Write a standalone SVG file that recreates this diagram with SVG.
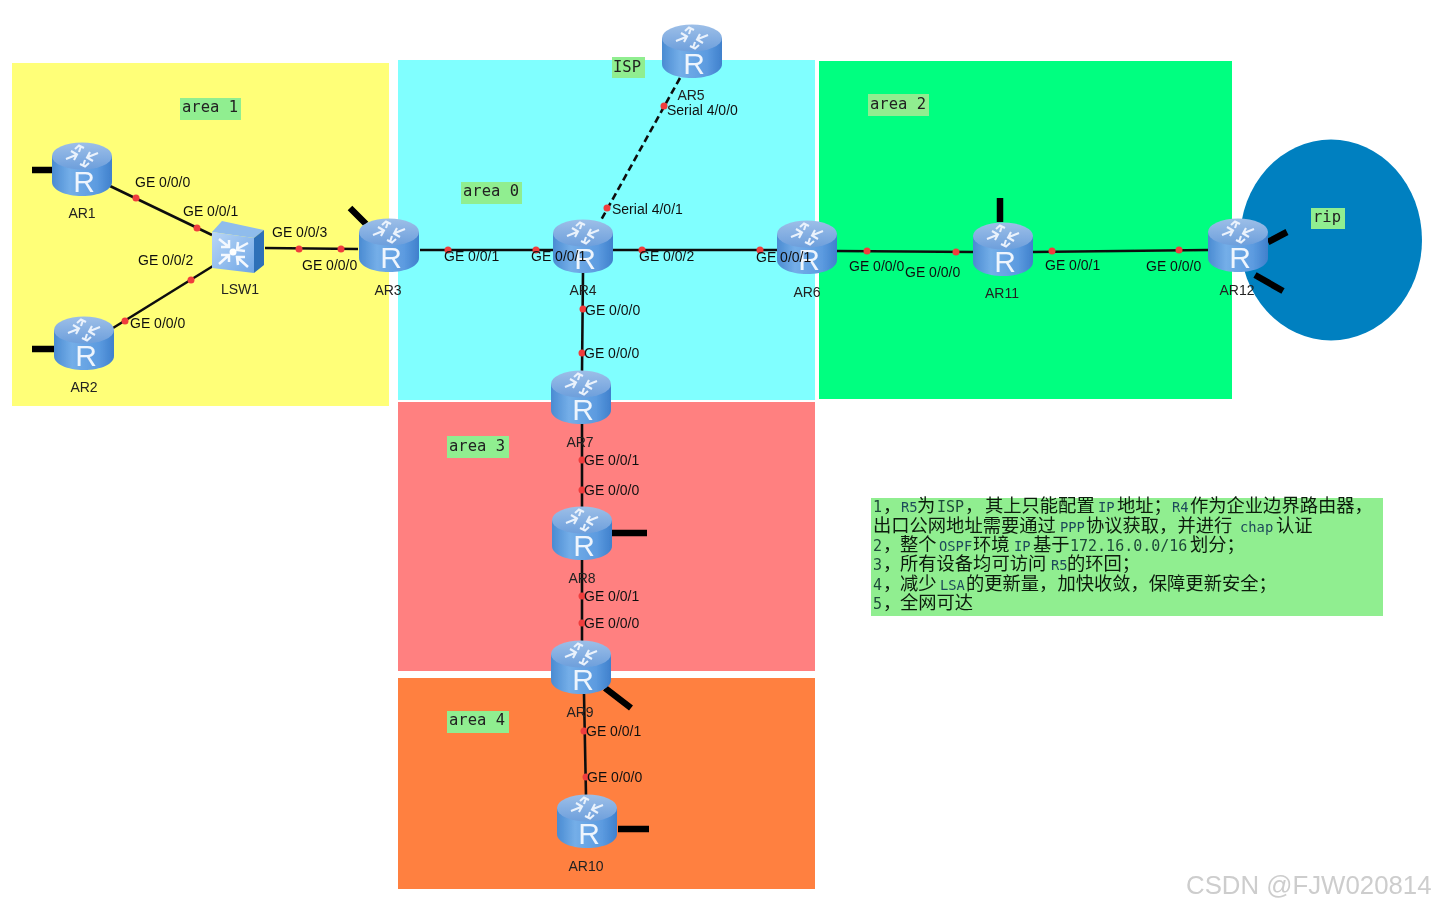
<svg xmlns="http://www.w3.org/2000/svg" width="1438" height="910" viewBox="0 0 1438 910">
<style>
.lbl{font:14px "Liberation Sans",Arial,sans-serif;fill:#111}
.name{font:14px "Liberation Sans",Arial,sans-serif;fill:#222;text-anchor:middle}
.mono{font:15.5px "DejaVu Sans Mono","Liberation Mono",monospace;fill:#222}
.tag{fill:#90ee90}
.link{stroke:#111;stroke-width:2.6;fill:none}
.dash{stroke-dasharray:7 4}
.stub{stroke:#000;stroke-width:6.5;fill:none}
.dot{fill:#f03c3c}
.note{font:18.3px "Noto Sans CJK SC","Liberation Sans",sans-serif;fill:#0c1a0c}
.note .m{font:15px "DejaVu Sans Mono","Liberation Mono",monospace;fill:#1e4a3a}
.note .s{font:13.8px "DejaVu Sans Mono","Liberation Mono",monospace;fill:#1e4a5a}
</style>
<defs>
<filter id="soft" x="0" y="0" width="100%" height="100%"><feGaussianBlur stdDeviation="0.5"/></filter>
<linearGradient id="body" x1="0" x2="1" y1="0" y2="0">
<stop offset="0" stop-color="#4a8bd2"/><stop offset=".3" stop-color="#74aee8"/><stop offset=".75" stop-color="#5c9be0"/><stop offset="1" stop-color="#3f80cc"/>
</linearGradient>
<linearGradient id="top" x1="0" x2="0" y1="0" y2="1">
<stop offset="0" stop-color="#9dbfe8"/><stop offset="1" stop-color="#6d9fdc"/>
</linearGradient>
<linearGradient id="sw" x1="0" x2="1" y1="0" y2="1">
<stop offset="0" stop-color="#b9d6f6"/><stop offset="1" stop-color="#6fa6e6"/>
</linearGradient>
<g id="router">
<path d="M-30-13V13C-30 21-17 27 0 27S30 21 30 13V-13Z" fill="url(#body)"/>
<ellipse cx="0" cy="-13" rx="30" ry="13.500" fill="url(#top)"/>
<g stroke="#eaf2fc" stroke-width="2.100" fill="none">
<path d="M-16-10L-6-14M-11-18L-5-14.500-8-9"/>
<path d="M16-16L6-12M11-8L5-11.500 8-17"/>
<path d="M-1-23L-3-17M-7-20L-3-23.500 2-21"/>
<path d="M1-3L3-9M7-6L3-2.500-2-5"/>
</g>
<text x="2" y="23" font-family="Liberation Sans,Arial,sans-serif" font-size="30" fill="#eef5fd" text-anchor="middle">R</text>
</g>
</defs>
<g filter="url(#soft)">
<rect width="1438" height="910" fill="#fff"/>
<g id="areas">
<rect x="12" y="63" width="377" height="343" fill="#ffff78"/>
<rect x="398" y="60" width="417" height="340" fill="#80ffff"/>
<rect x="819" y="61" width="413" height="338" fill="#00ff80"/>
<rect x="398" y="402" width="417" height="269" fill="#ff8080"/>
<rect x="398" y="678" width="417" height="211" fill="#ff8040"/>
<ellipse cx="1331" cy="240" rx="91" ry="100.500" fill="#0080c0"/>
</g>
<g id="tags">
<g id="tag-area1"><rect class="tag" x="180" y="98" width="61" height="22"/><text class="mono" x="182" y="112">area 1</text></g>
<g id="tag-area0"><rect class="tag" x="461" y="182" width="61" height="22"/><text class="mono" x="463" y="196">area 0</text></g>
<g id="tag-area2"><rect class="tag" x="868" y="94" width="61" height="22"/><text class="mono" x="870" y="109">area 2</text></g>
<g id="tag-area3"><rect class="tag" x="447" y="436" width="62" height="22"/><text class="mono" x="449" y="451">area 3</text></g>
<g id="tag-area4"><rect class="tag" x="447" y="711" width="62" height="22"/><text class="mono" x="449" y="725">area 4</text></g>
<g id="tag-isp"><rect class="tag" x="612" y="57" width="33" height="21"/><text class="mono" x="613" y="72">ISP</text></g>
<g id="tag-rip"><rect class="tag" x="1311" y="208" width="34" height="21"/><text class="mono" x="1313" y="222">rip</text></g>
</g>
<g id="connectors">
<path class="link" d="M110 186L212 235M113 328L213 266M265 248L358 249M420 250H555M612 250H778M837 251L975 252M1032 252L1208 250M583 272L582 372M582 424V508M582 560V642M584 694L586 796"/>
<path class="link dash" d="M680 78L600 222"/>
<path class="stub" d="M32 170H52M32 349H54M350 208L366 224M612 533H647M605 688L631 708M618 829H649M1000 198V222M1268 242L1287 232M1255 275L1283 291"/>
<g>
<circle class="dot" cx="136" cy="198" r="3.500"/><circle class="dot" cx="197" cy="228" r="3.500"/><circle class="dot" cx="125" cy="321" r="3.500"/><circle class="dot" cx="191" cy="280" r="3.500"/><circle class="dot" cx="299" cy="249" r="3.500"/><circle class="dot" cx="341" cy="249" r="3.500"/><circle class="dot" cx="448" cy="250" r="3.500"/><circle class="dot" cx="536" cy="250" r="3.500"/><circle class="dot" cx="642" cy="250" r="3.500"/><circle class="dot" cx="760" cy="250" r="3.500"/><circle class="dot" cx="867" cy="251" r="3.500"/><circle class="dot" cx="956" cy="252" r="3.500"/><circle class="dot" cx="1052" cy="251" r="3.500"/><circle class="dot" cx="1179" cy="250" r="3.500"/><circle class="dot" cx="664" cy="106" r="3.500"/><circle class="dot" cx="607" cy="208" r="3.500"/><circle class="dot" cx="583" cy="309" r="3.500"/><circle class="dot" cx="582" cy="353" r="3.500"/><circle class="dot" cx="582" cy="460" r="3.500"/><circle class="dot" cx="582" cy="490" r="3.500"/><circle class="dot" cx="582" cy="596" r="3.500"/><circle class="dot" cx="582" cy="623" r="3.500"/><circle class="dot" cx="584" cy="731" r="3.500"/><circle class="dot" cx="586" cy="777" r="3.500"/>
</g>
</g>
<g id="AR1"><use href="#router" x="82" y="169"/><text class="name" x="82" y="218">AR1</text></g>
<g id="AR2"><use href="#router" x="84" y="343"/><text class="name" x="84" y="392">AR2</text></g>
<g id="LSW1">
<path d="M212 232L222 221 264 230 254 238Z" fill="#8fbcec"/>
<path d="M254 238L264 230V265L254 273Z" fill="#2f6fb8"/>
<path d="M212 232L254 238V273L212 268Z" fill="url(#sw)"/>
<g stroke="#f4f8fe" stroke-width="2.500" fill="none">
<path d="M219 239L229 247M221 247H229V240"/>
<path d="M248 243L237 249M238 242L237 250 245 251"/>
<path d="M219 264L229 255M221 255H229V262"/>
<path d="M248 267L237 257M238 265L237 257 245 257"/>
</g>
<circle cx="233" cy="252" r="3.500" fill="#fff"/>
<text class="name" x="240" y="294">LSW1</text>
</g>
<g id="AR3"><use href="#router" x="389" y="245"/><text class="name" x="388" y="295">AR3</text></g>
<g id="AR4"><use href="#router" x="583" y="246"/><text class="name" x="583" y="295">AR4</text></g>
<g id="AR5"><use href="#router" x="692" y="51"/><text class="name" x="691" y="100">AR5</text></g>
<g id="AR6"><use href="#router" x="807" y="247"/><text class="name" x="807" y="297">AR6</text></g>
<g id="AR11"><use href="#router" x="1003" y="249"/><text class="name" x="1002" y="298">AR11</text></g>
<g id="AR12"><use href="#router" x="1238" y="245"/><text class="name" x="1237" y="295">AR12</text></g>
<g id="AR7"><use href="#router" x="581" y="397"/><text class="name" x="580" y="447">AR7</text></g>
<g id="AR8"><use href="#router" x="582" y="533"/><text class="name" x="582" y="583">AR8</text></g>
<g id="AR9"><use href="#router" x="581" y="667"/><text class="name" x="580" y="717">AR9</text></g>
<g id="AR10"><use href="#router" x="587" y="821"/><text class="name" x="586" y="871">AR10</text></g>
<g id="labels">
<text class="lbl" x="135" y="187">GE 0/0/0</text>
<text class="lbl" x="183" y="216">GE 0/0/1</text>
<text class="lbl" x="138" y="265">GE 0/0/2</text>
<text class="lbl" x="130" y="328">GE 0/0/0</text>
<text class="lbl" x="272" y="237">GE 0/0/3</text>
<text class="lbl" x="302" y="270">GE 0/0/0</text>
<text class="lbl" x="444" y="261">GE 0/0/1</text>
<text class="lbl" x="531" y="261">GE 0/0/1</text>
<text class="lbl" x="639" y="261">GE 0/0/2</text>
<text class="lbl" x="756" y="262">GE 0/0/1</text>
<text class="lbl" x="849" y="271">GE 0/0/0</text>
<text class="lbl" x="905" y="277">GE 0/0/0</text>
<text class="lbl" x="1045" y="270">GE 0/0/1</text>
<text class="lbl" x="1146" y="271">GE 0/0/0</text>
<text class="lbl" x="667" y="115">Serial 4/0/0</text>
<text class="lbl" x="612" y="214">Serial 4/0/1</text>
<text class="lbl" x="585" y="315">GE 0/0/0</text>
<text class="lbl" x="584" y="358">GE 0/0/0</text>
<text class="lbl" x="584" y="465">GE 0/0/1</text>
<text class="lbl" x="584" y="495">GE 0/0/0</text>
<text class="lbl" x="584" y="601">GE 0/0/1</text>
<text class="lbl" x="584" y="628">GE 0/0/0</text>
<text class="lbl" x="586" y="736">GE 0/0/1</text>
<text class="lbl" x="587" y="782">GE 0/0/0</text>
</g>
<g id="note">
<rect x="871" y="498" width="512" height="118" fill="#90ee90"/>
<text class="note" y="512"><tspan class="m" x="873">1</tspan><tspan x="883">，</tspan><tspan class="s" x="901">R5</tspan><tspan x="917">为</tspan><tspan class="m" x="937">ISP</tspan><tspan x="965">，</tspan><tspan x="985">其上只能配置</tspan><tspan class="s" x="1098">IP</tspan><tspan x="1117">地址；</tspan><tspan class="s" x="1172">R4</tspan><tspan x="1190">作为企业边界路由器，</tspan></text>
<text class="note" y="532"><tspan x="873">出口公网地址需要通过</tspan><tspan class="s" x="1060">PPP</tspan><tspan x="1086">协议获取，并进行</tspan><tspan class="s" x="1240">chap</tspan><tspan x="1276">认证</tspan></text>
<text class="note" y="551"><tspan class="m" x="873">2</tspan><tspan x="883">，</tspan><tspan x="900">整个</tspan><tspan class="s" x="939">OSPF</tspan><tspan x="973">环境</tspan><tspan class="s" x="1014">IP</tspan><tspan x="1033">基于</tspan><tspan class="m" x="1070">172.16.0.0/16</tspan><tspan x="1190">划分；</tspan></text>
<text class="note" y="570"><tspan class="m" x="873">3</tspan><tspan x="883">，</tspan><tspan x="900">所有设备均可访问</tspan><tspan class="s" x="1051">R5</tspan><tspan x="1067">的环回；</tspan></text>
<text class="note" y="590"><tspan class="m" x="873">4</tspan><tspan x="883">，</tspan><tspan x="900">减少</tspan><tspan class="s" x="940">LSA</tspan><tspan x="966">的更新量，加快收敛，保障更新安全；</tspan></text>
<text class="note" y="609"><tspan class="m" x="873">5</tspan><tspan x="883">，</tspan><tspan x="900">全网可达</tspan></text>
</g>
<text id="watermark" x="1186" y="894" font-family="Liberation Sans,Arial,sans-serif" font-size="25.800" fill="#cdcdcd">CSDN @FJW020814</text>
</g>
</svg>
